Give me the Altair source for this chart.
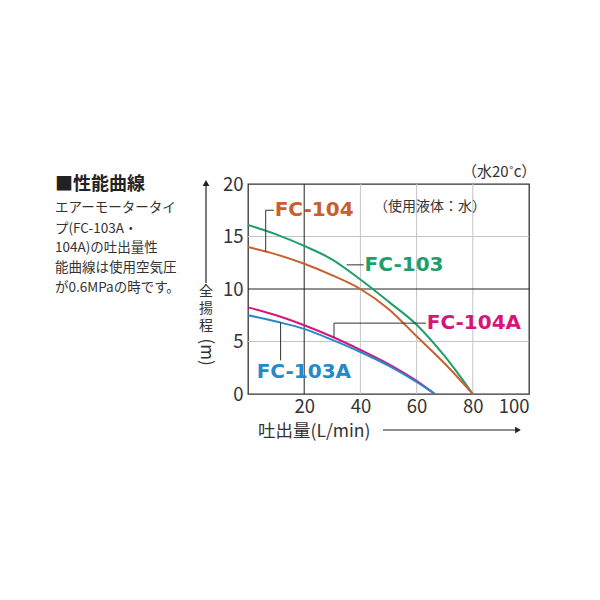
import altair as alt
import pandas as pd

# ---- data ----
series_names = ["FC-103", "FC-104", "FC-104A", "FC-103A"]
series_colors = ["#1e9e6a", "#c8602e", "#d6157a", "#2489c8"]

x_fc103 = [0, 10, 20, 30, 40, 50, 60, 70, 80]
y_fc103 = [16.1, 15.2, 14.1, 12.8, 10.9, 8.8, 6.6, 3.6, 0.0]
x_fc104 = [0, 10, 20, 30, 40, 50, 60, 70, 80]
y_fc104 = [14.0, 13.3, 12.4, 11.3, 10.0, 8.1, 5.5, 2.9, 0.0]
x_fc104a = [0, 10, 20, 30, 40, 50, 60, 66.5]
y_fc104a = [8.25, 7.5, 6.55, 5.45, 4.2, 2.85, 1.25, 0.0]
x_fc103a = [0, 10, 20, 30, 40, 50, 60, 66.5]
y_fc103a = [7.5, 6.9, 6.2, 5.15, 4.0, 2.7, 1.15, 0.0]

x_ticks = [20, 40, 60, 80, 100]
y_ticks = [0, 5, 10, 15, 20]
x_grid_light = [40, 60, 80]
x_grid_dark = [20]
y_grid_light = [5, 15]
y_grid_dark = [10]

rows = []
for name, xs, ys in [("FC-103", x_fc103, y_fc103), ("FC-104", x_fc104, y_fc104),
                     ("FC-104A", x_fc104a, y_fc104a), ("FC-103A", x_fc103a, y_fc103a)]:
    for a, b in zip(xs, ys):
        rows.append({"series": name, "x": a, "y": b})
curves = pd.DataFrame(rows)

FONT = "Noto Sans CJK JP"
LABEL_FONT = "DejaVu Sans"

xscale = alt.Scale(domain=[0, 100], nice=False, zero=False)
yscale = alt.Scale(domain=[0, 20], nice=False, zero=False)
xaxis = alt.Axis(values=x_ticks, grid=False, ticks=False, domain=False, title=None,
                 labelFont=FONT, labelFontSize=18.5, labelColor="#333", labelPadding=3)
yaxis = alt.Axis(values=y_ticks, grid=False, ticks=False, domain=False, title=None,
                 labelFont=FONT, labelFontSize=18.5, labelColor="#333", labelPadding=5)


def X(field):
    return alt.X(field, type="quantitative", scale=xscale, axis=xaxis)


def Y(field):
    return alt.Y(field, type="quantitative", scale=yscale, axis=yaxis)


vlight = alt.Chart(pd.DataFrame({"g": x_grid_light})).mark_rule(
    color="#c4c4c4", strokeWidth=1).encode(x=X("g"))
hlight = alt.Chart(pd.DataFrame({"g": y_grid_light})).mark_rule(
    color="#c4c4c4", strokeWidth=1).encode(y=Y("g"))
vdark = alt.Chart(pd.DataFrame({"g": x_grid_dark})).mark_rule(
    color="#222", strokeWidth=1).encode(x=X("g"))
hdark = alt.Chart(pd.DataFrame({"g": y_grid_dark})).mark_rule(
    color="#222", strokeWidth=1).encode(y=Y("g"))

lines = alt.Chart(curves).mark_line(interpolate="monotone", strokeWidth=2).encode(
    x=X("x"), y=Y("y"),
    color=alt.Color("series:N", scale=alt.Scale(domain=series_names, range=series_colors), legend=None),
    detail="series:N",
)

# leader line segments
lead_x = [6.3, 6.3, 35.1, 30.6, 30.6, 11.6]
lead_x2 = [6.3, 9.2, 41.2, 30.6, 63.3, 11.6]
lead_y = [13.55, 17.5, 12.3, 5.35, 6.75, 3.2]
lead_y2 = [17.5, 17.5, 12.3, 6.75, 6.75, 6.8]
leaders = alt.Chart(pd.DataFrame({"x": lead_x, "x2": lead_x2, "y": lead_y, "y2": lead_y2})).mark_rule(
    color="#333", strokeWidth=1).encode(x=X("x"), x2="x2", y=Y("y"), y2="y2")

# series labels
lab_x = [41.5, 9.5, 63.6, 3.1]
lab_y = [12.3, 17.5, 6.75, 2.07]
labels = alt.Chart(pd.DataFrame({"series": series_names, "lx": lab_x, "ly": lab_y})).mark_text(
    align="left", baseline="middle", font=LABEL_FONT, fontSize=20, fontWeight="bold").encode(
    x=X("lx"), y=Y("ly"), text="series:N",
    color=alt.Color("series:N", scale=alt.Scale(domain=series_names, range=series_colors), legend=None),
)


def note(text, x, y, size, weight="normal", align="left", angle=0, font=FONT, color="#333"):
    return alt.Chart(pd.DataFrame({"t": [text]})).mark_text(
        x=x, y=y, align=align, baseline="middle", fontSize=size, fontWeight=weight,
        font=font, color=color, angle=angle).encode(text="t:N")


ytitle_chars = ["全", "揚", "程"]
ytitle_stack = alt.Chart(pd.DataFrame({"a": [0]})).mark_text(
    text=ytitle_chars, lineHeight=17, align="center", baseline="middle",
    fontSize=14, font=FONT, color="#333").encode(x=alt.value(-42), y=alt.value(108))

notes = [
    note("（使用液体：水）", 126, 23, 14),
    note("（水20˚c）", 214, -12, 15),
    note("■性能曲線", -193, 1, 18, weight="bold", color="#222"),
    note("エアーモータータイ", -193, 24, 13.5),
    note("プ(FC-103A・", -193, 45, 13.5),
    note("104A)の吐出量性", -193, 64, 13.5),
    note("能曲線は使用空気圧", -193, 84, 13.5),
    note("が0.6MPaの時です。", -193, 104, 13.5),
    note("(m)", -42, 168, 17, align="center", angle=90),
    note("吐出量(L/min)", 10, 248, 17.5),
]

# axis arrows
yarrow = alt.Chart(pd.DataFrame({"a": [0]})).mark_rule(color="#222", strokeWidth=1.2).encode(
    x=alt.value(-42), y=alt.value(0), y2=alt.value(99))
yhead = alt.Chart(pd.DataFrame({"a": [0]})).mark_point(
    shape="triangle-up", filled=True, color="#222", size=45, opacity=1).encode(
    x=alt.value(-42), y=alt.value(-1))
xarrow = alt.Chart(pd.DataFrame({"a": [0]})).mark_rule(color="#222", strokeWidth=1.2).encode(
    x=alt.value(135), x2=alt.value(268), y=alt.value(246))
xhead = alt.Chart(pd.DataFrame({"a": [0]})).mark_point(
    shape="triangle-right", filled=True, color="#222", size=45, opacity=1).encode(
    x=alt.value(270), y=alt.value(246))

chart = alt.layer(vlight, hlight, vdark, hdark, lines, leaders, labels,
                  yarrow, yhead, xarrow, xhead, ytitle_stack, *notes).properties(
    width=281, height=210,
    autosize=alt.AutoSizeParams(type="none"),
    padding={"left": 240, "top": 176, "right": 60, "bottom": 100},
    background="white",
).configure_view(stroke="#333", strokeWidth=1.3)

chart.save("out.html", embed_options={"renderer": "svg", "actions": False})
